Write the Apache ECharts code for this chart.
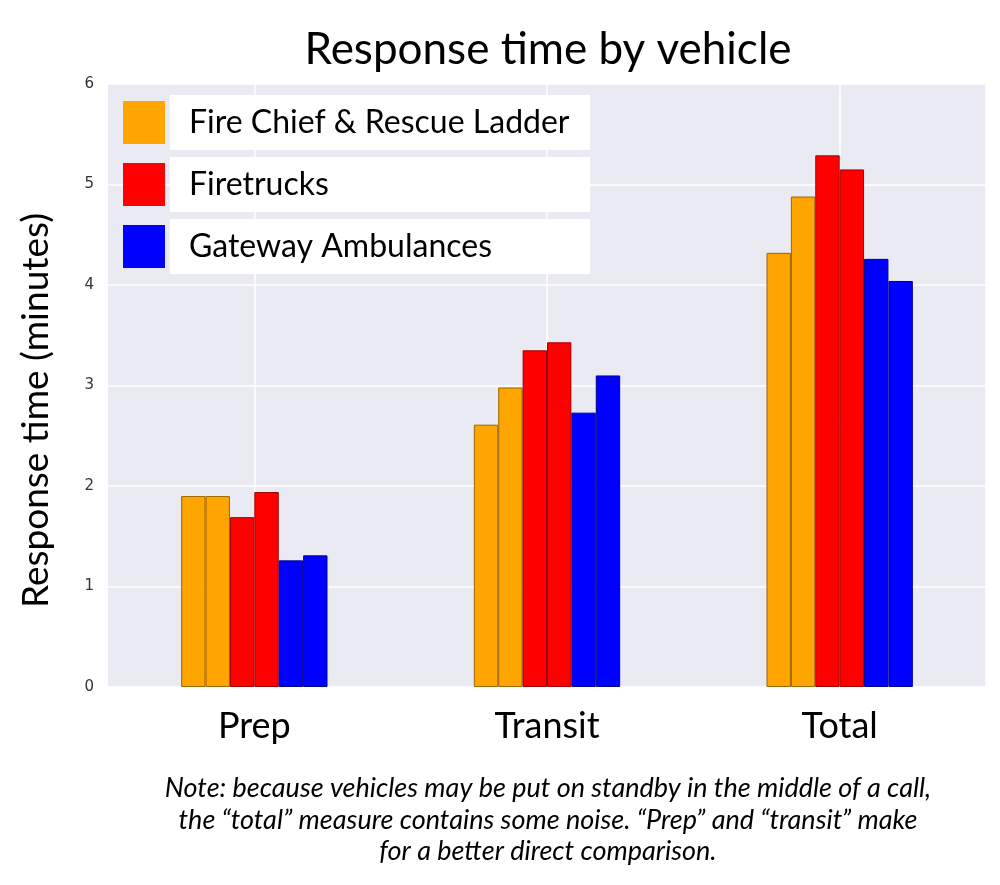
<!DOCTYPE html>
<html>
<head>
<meta charset="utf-8">
<script src="https://cdn.jsdelivr.net/npm/echarts@6/dist/echarts.min.js"></script>
<style>
  html, body { margin: 0; padding: 0; background: #fff; }
  #chart { width: 1000px; height: 885px; }
</style>
</head>
<body>
<div id="chart"></div>
<script>
// 数据
const categories = ['Prep', 'Transit', 'Total'];
const seriesNames = ['Fire Chief & Rescue Ladder', 'Firetrucks', 'Gateway Ambulances'];
const fireChiefA = [1.90, 2.61, 4.32];
const fireChiefB = [1.90, 2.98, 4.88];
const firetrucksA = [1.69, 3.35, 5.29];
const firetrucksB = [1.94, 3.43, 5.15];
const ambulanceA = [1.26, 2.73, 4.26];
const ambulanceB = [1.31, 3.10, 4.04];
const colors = ['#FFA500', '#FF0000', '#0000FF'];
const borders = ['#9A6600', '#A00000', '#000090'];

const font = 'Lato, "Open Sans", sans-serif';

function bar (name, data, idx) {
  return {
    name: name,
    type: 'bar',
    data: data,
    xAxisIndex: 0,
    barGap: 0,
    barCategoryGap: '50%',
    itemStyle: {
      color: colors[idx],
      borderColor: borders[idx],
      borderWidth: 1
    }
  }
}

const option = {
  animation: false,
  title: {
    text: 'Response time by vehicle',
    left: 543,
    top: 23,
    textAlign: 'center',
    textStyle: { fontFamily: font, fontSize: 44, fontWeight: 'normal', color: '#000' }
  },
  legend: {
    orient: 'vertical',
    left: 118,
    top: 90,
    itemGap: 7,
    itemWidth: 42,
    itemHeight: 43,
    icon: 'rect',
    data: seriesNames,
    itemStyle: { borderWidth: 0 },
    textStyle: {
      fontFamily: font,
      fontSize: 32,
      color: '#000',
      backgroundColor: '#fff',
      width: 401,
      height: 55,
      lineHeight: 55,
      padding: [0, 0, 0, 19]
    }
  },
  grid: {
    left: 108,
    right: 14,
    top: 84,
    bottom: 198,
    show: true,
    backgroundColor: '#EAEAF2',
    borderWidth: 0
  },
  xAxis: [
    {
      type: 'category',
      data: categories,
      axisLine: { show: false },
      axisTick: { show: false },
      splitLine: { show: false },
      axisLabel: { fontFamily: font, fontSize: 36, color: '#000', margin: 21 }
    },
    {
      // 只用来画类目中心的竖直网格线
      type: 'category',
      data: ['', '', '', '', '', ''],
      position: 'top',
      axisLine: { show: false },
      axisTick: { show: false },
      axisLabel: { show: false },
      splitLine: {
        show: true,
        interval: (i) => i % 2 === 1,
        lineStyle: { color: '#fff', width: 1.5 }
      }
    }
  ],
  yAxis: {
    type: 'value',
    min: 0,
    max: 6,
    interval: 1,
    name: 'Response time (minutes)',
    nameLocation: 'middle',
    nameGap: 53,
    nameTextStyle: { fontFamily: font, fontSize: 37, color: '#000', padding: [0, 50, 0, 0] },
    axisLine: { show: false },
    axisTick: { show: false },
    axisLabel: { fontFamily: '"DejaVu Sans", sans-serif', fontSize: 15, color: '#333', margin: 14 },
    splitLine: { lineStyle: { color: '#fff', width: 1.5 } }
  },
  graphic: [
    {
      type: 'text',
      x: 548,
      y: 773,
      style: {
        text: 'Note: because vehicles may be put on standby in the middle of a call,\nthe \u201ctotal\u201d measure contains some noise. \u201cPrep\u201d and \u201ctransit\u201d make\nfor a better direct comparison.',
        fontFamily: font,
        fontStyle: 'italic',
        fontSize: 27,
        lineHeight: 31.5,
        fill: '#000',
        align: 'center',
        verticalAlign: 'top'
      }
    }
  ],
  series: [
    bar(seriesNames[0], fireChiefA, 0),
    bar(seriesNames[0], fireChiefB, 0),
    bar(seriesNames[1], firetrucksA, 1),
    bar(seriesNames[1], firetrucksB, 1),
    bar(seriesNames[2], ambulanceA, 2),
    bar(seriesNames[2], ambulanceB, 2)
  ]
};

const myChart = echarts.init(document.getElementById('chart'));
myChart.setOption(option);
window.onresize = myChart.resize;
</script>
</body>
</html>
